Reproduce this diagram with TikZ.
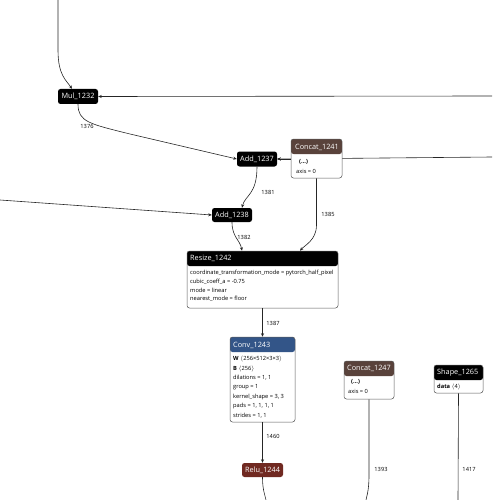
\documentclass[tikz,border=0pt]{standalone}
\usepackage{fontspec}
\setmainfont{Open Sans}
\usetikzlibrary{arrows.meta}
\definecolor{layercol}{RGB}{51,85,136}
\definecolor{tensorcol}{RGB}{89,66,59}
\definecolor{actcol}{RGB}{112,41,33}
\tikzset{
  op/.style={rounded corners=2.5pt, fill=#1, text=white, inner sep=0pt, minimum height=15pt,
    font=\fontsize{7.3}{8}\selectfont},
  card/.style={draw=black!65, line width=0.5pt, rounded corners=2.5pt, fill=white, inner sep=0pt,
    path picture={\fill[#1] (path picture bounding box.north west) rectangle
      ([yshift=-15pt]path picture bounding box.north east);}},
  title/.style={anchor=west, inner sep=0pt, text=white, font=\fontsize{7.3}{8}\selectfont},
  attr/.style={anchor=west, inner sep=0pt, font=\fontsize{5.7}{6}\selectfont},
  lbl/.style={inner sep=0pt, font=\fontsize{5.7}{6}\selectfont},
  wire/.style={draw=black!85, line width=0.6pt, -{Stealth[length=3.5pt,width=3pt]}},
  loose/.style={draw=black!85, line width=0.6pt},
}
\begin{document}
\begin{tikzpicture}[x=1pt, y=-1pt]
\useasboundingbox (0,0) rectangle (492,500);
% simple operators
\node[op=black, minimum width=40pt] (mul1232) at (78,96.5) {Mul\_1232};
\node[op=black, minimum width=40pt] (add1237) at (257,159) {Add\_1237};
\node[op=black, minimum width=40pt, minimum height=14pt] (add1238) at (232,215) {Add\_1238};
\node[op=actcol, minimum width=41pt, minimum height=14pt] (relu1244) at (262.5,470) {Relu\_1244};
% free ends of the cut wires
\coordinate (inTop) at (58,0);
\coordinate (inMul) at (492,96);
\coordinate (inAdd) at (492,157);
\coordinate (inLeft) at (0,200);
\coordinate (outRelu) at (266,500);
\coordinate (outConcat) at (366,500);
\coordinate (outShape) at (458,500);
% this one runs behind Concat_1241
\draw[wire] (inAdd) -- (add1237.east);
% Concat_1241
\node[card=tensorcol, minimum width=51pt, minimum height=39pt] (concat1241) at (316.5,158.5) {};
\node[title] (concat1241-t) at (295,147) {Concat\_1241};
\node[attr] (concat1241-a1) at (299,162) {\textbf{(...)}};
\node[attr] (concat1241-a2) at (296,171) {axis = 0};
% Resize_1242
\node[card=black, minimum width=151pt, minimum height=57pt] (resize1242) at (262.5,279.5) {};
\node[title] (resize1242-t) at (190,258.5) {Resize\_1242};
\node[attr] (resize1242-a1) at (190,273) {coordinate\_transformation\_mode = pytorch\_half\_pixel};
\node[attr] (resize1242-a2) at (190,281.7) {cubic\_coeff\_a = -0.75};
\node[attr] (resize1242-a3) at (190,290.4) {mode = linear};
\node[attr] (resize1242-a4) at (190,299.1) {nearest\_mode = floor};
% Conv_1243
\node[card=layercol, minimum width=65pt, minimum height=85pt] (conv1243) at (262.5,379.5) {};
\node[title] (conv1243-t) at (233,345) {Conv\_1243};
\node[attr] (conv1243-a1) at (233,359) {\textbf{W} \ensuremath{\langle}256×512×3×3\ensuremath{\rangle}};
\node[attr] (conv1243-a2) at (233,368.5) {\textbf{B} \ensuremath{\langle}256\ensuremath{\rangle}};
\node[attr] (conv1243-a3) at (233,378) {dilations = 1, 1};
\node[attr] (conv1243-a4) at (233,387.5) {group = 1};
\node[attr] (conv1243-a5) at (233,397) {kernel\_shape = 3, 3};
\node[attr] (conv1243-a6) at (233,406.5) {pads = 1, 1, 1, 1};
\node[attr] (conv1243-a7) at (233,416) {strides = 1, 1};
% Concat_1247
\node[card=tensorcol, minimum width=50pt, minimum height=38pt] (concat1247) at (369,380) {};
\node[title] (concat1247-t) at (347,368.5) {Concat\_1247};
\node[attr] (concat1247-a1) at (351,382) {\textbf{(...)}};
\node[attr] (concat1247-a2) at (348,391) {axis = 0};
% Shape_1265
\node[card=black, minimum width=49pt, minimum height=28pt] (shape1265) at (458.5,379) {};
\node[title] (shape1265-t) at (437,372.5) {Shape\_1265};
\node[attr] (shape1265-a1) at (437,387) {\textbf{data} \ensuremath{\langle}4\ensuremath{\rangle}};
% wires
\draw[wire] (inTop) -- (58,50) .. controls (58,75) and (66,80) .. ([xshift=-6pt]mul1232.north);
\draw[wire] (inMul) -- (mul1232.east);
\draw[wire] (mul1232.south) .. controls (78,122) and (90,124) .. (130,134) -- (add1237.west);
\draw[wire] (concat1241.west |- add1237.east) -- (add1237.east);
\draw[wire] (add1237.south) .. controls (257,195) and (245,195) .. ([xshift=10pt]add1238.north);
\draw[wire] (inLeft) -- (add1238.west);
\draw[wire] (add1238.south) .. controls (232,237) and (240,240) .. ([xshift=-20.5pt]resize1242.north);
\draw[wire] (concat1241.south) -- (316.5,225) .. controls (316.5,240) and (305,245) .. ([xshift=37.5pt]resize1242.north);
\draw[wire] (resize1242.south) -- (conv1243.north);
\draw[wire] (conv1243.south) -- (relu1244.north);
\draw[loose] (relu1244.south) .. controls (262.5,490) and (265,495) .. (outRelu);
\draw[loose] (concat1247.south) -- (369,475) .. controls (369,490) and (367,495) .. (outConcat);
\draw[loose] (shape1265.south) -- (outShape);
% wire labels
\node[lbl] (l1376) at (87,126) {1376};
\node[lbl] (l1381) at (268,192) {1381};
\node[lbl] (l1385) at (328,214) {1385};
\node[lbl] (l1382) at (244,237) {1382};
\node[lbl] (l1387) at (273,323) {1387};
\node[lbl] (l1460) at (273,436) {1460};
\node[lbl] (l1393) at (381,469) {1393};
\node[lbl] (l1417) at (469,469) {1417};
\end{tikzpicture}
\end{document}
